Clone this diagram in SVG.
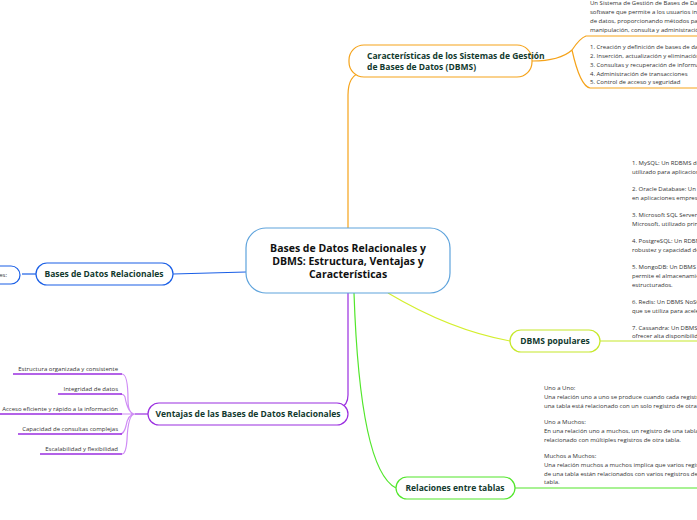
<svg xmlns="http://www.w3.org/2000/svg" width="697" height="520" viewBox="0 0 697 520">
<style>
text{font-family:"Open Sans","Liberation Sans",sans-serif;}
.t{font-size:6px;fill:#333;}
.n{font-size:8.5px;font-weight:bold;fill:#123a2e;}
.c{fill:none;stroke-width:1.2;}
</style>
<rect width="697" height="520" fill="#fff"/>
<g id="connectors">
<path class="c" stroke="#f5a31a" d="M348,228 V95 Q348,75 362,72"/>
<path class="c" stroke="#f5a31a" d="M532,61 Q560,61 572,50 Q580,38 586,36 H697 M572,50 Q580,86 590,88 H697"/>
<path class="c" stroke="#d4ef2e" stroke-width="1.5" d="M388,293 Q450,330 510,341"/>
<path class="c" stroke="#c6e82a" stroke-width="2" d="M600,341 H697"/>
<path class="c" stroke="#52e62b" stroke-width="1.5" d="M354,293 Q360,470 396,488"/>
<path class="c" stroke="#52e62b" stroke-width="2" d="M515,488 H697"/>
<path class="c" stroke="#9a2ee0" stroke-width="1.5" d="M348,293 V395 Q348,405 340,408"/>
<path class="c" stroke="#9a2ee0" d="M148,414 H135"/>
<path class="c" stroke="#cf8cf5" d="M135,414 Q128,414 128,400 Q128,374 122,374 M135,414 Q128,414 125,397 Q124,394 120,394 M135,414 Q125,414 120,414 M135,414 Q128,414 126,426 Q124,434 120,434 M135,414 Q128,414 127,440 Q126,454 122,454"/>
<g stroke="#9a2ee0" stroke-width="1.5">
<line x1="13" y1="374" x2="122" y2="374"/>
<line x1="58" y1="394" x2="122" y2="394"/>
<line x1="0" y1="414" x2="122" y2="414"/>
<line x1="18" y1="434" x2="122" y2="434"/>
<line x1="40" y1="454" x2="122" y2="454"/>
</g>
<path class="c" stroke="#1a5fe6" stroke-width="1.5" d="M246,272 Q210,273 173,274"/>
<path class="c" stroke="#1a5fe6" d="M36,274 H22"/>
</g>
<g id="main">
<rect x="246" y="228" width="204" height="65" rx="20" fill="#fff" stroke="#5ea3dc" stroke-width="1.2"/>
<text x="348" y="252" text-anchor="middle" font-size="10.5" font-weight="bold" fill="#111">Bases de Datos Relacionales y</text>
<text x="348" y="265" text-anchor="middle" font-size="10.5" font-weight="bold" fill="#111">DBMS: Estructura, Ventajas y</text>
<text x="348" y="278" text-anchor="middle" font-size="10.5" font-weight="bold" fill="#111">Características</text>
</g>
<g id="caracteristicas">
<rect x="349" y="45" width="183" height="32" rx="15" fill="#fff" stroke="#f5a31a" stroke-width="1.2"/>
<text class="n" x="367" y="59">Características de los Sistemas de Gestión</text>
<text class="n" x="367" y="70">de Bases de Datos (DBMS)</text>
<text class="t" x="590" y="5">Un Sistema de Gestión de Bases de Datos (DBMS) es un</text>
<text class="t" x="590" y="14">software que permite a los usuarios interactuar con bases</text>
<text class="t" x="590" y="23">de datos, proporcionando métodos para el almacenamiento,</text>
<text class="t" x="590" y="32">manipulación, consulta y administración de datos.</text>
<text class="t" x="590" y="49">1. Creación y definición de bases de datos</text>
<text class="t" x="590" y="58">2. Inserción, actualización y eliminación de datos</text>
<text class="t" x="590" y="67">3. Consultas y recuperación de información</text>
<text class="t" x="590" y="76">4. Administración de transacciones</text>
<text class="t" x="590" y="84">5. Control de acceso y seguridad</text>
</g>
<g id="populares">
<rect x="510" y="330" width="90" height="22" rx="11" fill="#fff" stroke="#c6e82a" stroke-width="1.2"/>
<text class="n" x="555" y="344" text-anchor="middle">DBMS populares</text>
<text class="t" x="632" y="165">1. MySQL: Un RDBMS de código abierto ampliamente</text>
<text class="t" x="632" y="174">utilizado para aplicaciones web.</text>
<text class="t" x="632" y="191">2. Oracle Database: Un RDBMS comercial utilizado</text>
<text class="t" x="632" y="200">en aplicaciones empresariales.</text>
<text class="t" x="632" y="217">3. Microsoft SQL Server: Un RDBMS desarrollado por</text>
<text class="t" x="632" y="226">Microsoft, utilizado principalmente en Windows.</text>
<text class="t" x="632" y="243">4. PostgreSQL: Un RDBMS conocido por su</text>
<text class="t" x="632" y="252">robustez y capacidad de extensión.</text>
<text class="t" x="632" y="269">5. MongoDB: Un DBMS NoSQL orientado a documentos que</text>
<text class="t" x="632" y="278">permite el almacenamiento de datos no</text>
<text class="t" x="632" y="287">estructurados.</text>
<text class="t" x="632" y="304">6. Redis: Un DBMS NoSQL en memoria</text>
<text class="t" x="632" y="313">que se utiliza para acelerar aplicaciones.</text>
<text class="t" x="632" y="330">7. Cassandra: Un DBMS NoSQL distribuido diseñado para</text>
<text class="t" x="632" y="338">ofrecer alta disponibilidad.</text>
</g>
<g id="relaciones">
<rect x="396" y="477" width="119" height="22" rx="11" fill="#fff" stroke="#52e62b" stroke-width="1.2"/>
<text class="n" x="455" y="491" text-anchor="middle">Relaciones entre tablas</text>
<text class="t" x="544" y="390">Uno a Uno:</text>
<text class="t" x="544" y="399">Una relación uno a uno se produce cuando cada registro de</text>
<text class="t" x="544" y="408">una tabla está relacionado con un solo registro de otra tabla.</text>
<text class="t" x="544" y="424">Uno a Muchos:</text>
<text class="t" x="544" y="433">En una relación uno a muchos, un registro de una tabla está</text>
<text class="t" x="544" y="442">relacionado con múltiples registros de otra tabla.</text>
<text class="t" x="544" y="458">Muchos a Muchos:</text>
<text class="t" x="544" y="467">Una relación muchos a muchos implica que varios registros</text>
<text class="t" x="544" y="476">de una tabla están relacionados con varios registros de otra</text>
<text class="t" x="544" y="484">tabla.</text>
</g>
<g id="ventajas">
<rect x="148" y="403" width="200" height="22" rx="11" fill="#fff" stroke="#9a2ee0" stroke-width="1.2"/>
<text class="n" x="248" y="417" text-anchor="middle">Ventajas de las Bases de Datos Relacionales</text>
<text class="t" x="118" y="371" text-anchor="end">Estructura organizada y consistente</text>
<text class="t" x="118" y="391" text-anchor="end">Integridad de datos</text>
<text class="t" x="118" y="411" text-anchor="end">Acceso eficiente y rápido a la información</text>
<text class="t" x="118" y="431" text-anchor="end">Capacidad de consultas complejas</text>
<text class="t" x="118" y="451" text-anchor="end">Escalabilidad y flexibilidad</text>
</g>
<g id="bases">
<rect x="36" y="263" width="137" height="22" rx="11" fill="#fff" stroke="#1a5fe6" stroke-width="1.2"/>
<text class="n" x="104" y="277" text-anchor="middle">Bases de Datos Relacionales</text>
<rect x="-80" y="266" width="100" height="18" rx="9" fill="#fff" stroke="#1a5fe6" stroke-width="1.2"/>
<text class="t" x="7" y="277" text-anchor="end">Componentes:</text>
</g>
</svg>
